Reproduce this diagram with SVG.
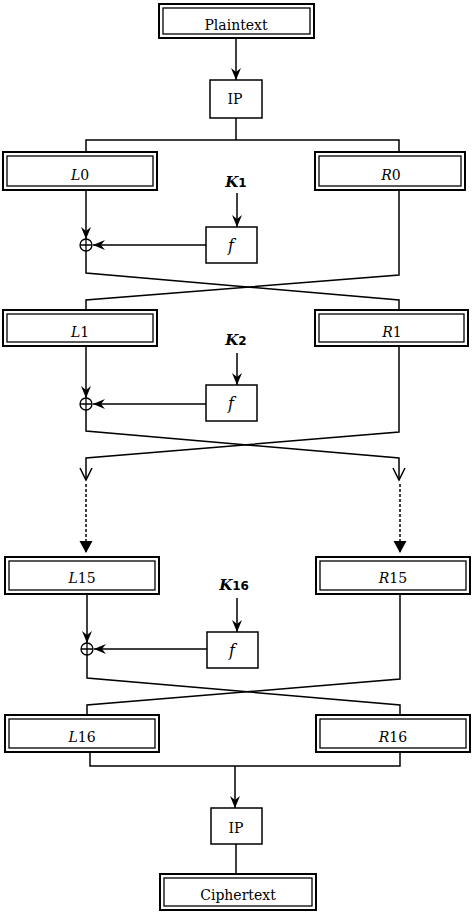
<svg xmlns="http://www.w3.org/2000/svg" width="474" height="914" viewBox="0 0 474 914">
<style>
.o{fill:#fff;stroke:#000;stroke-width:2}
.i{fill:none;stroke:#000;stroke-width:1.3}
.b{fill:#fff;stroke:#000;stroke-width:1.5}
.t{font-family:"DejaVu Serif","Liberation Serif",serif;font-size:14px;fill:#000;text-anchor:middle}
.v{font-style:italic}
.fx{font-family:"DejaVu Serif","Liberation Serif",serif;font-size:16px;font-style:italic;fill:#000;text-anchor:middle}
.k{font-family:"DejaVu Serif","Liberation Serif",serif;font-size:15px;font-weight:bold;font-style:italic;fill:#000;text-anchor:middle}
.kn{font-family:"DejaVu Sans","Liberation Sans",sans-serif;font-style:normal;font-size:12px;font-weight:bold}
#conn line,#conn polyline{fill:none;stroke:#000;stroke-width:1.5}
.dot{stroke-dasharray:3,2}
</style>
<defs>
<marker id="a" markerUnits="userSpaceOnUse" markerWidth="13" markerHeight="11" refX="12" refY="5" orient="auto" overflow="visible">
<path d="M0,0 L12,5 L0,10 L4,5 z" fill="#000"/>
</marker>
<marker id="v" markerUnits="userSpaceOnUse" markerWidth="13" markerHeight="13" refX="12" refY="6" orient="auto" overflow="visible">
<path d="M0,0 L12,6 L0,12" fill="none" stroke="#000" stroke-width="1.5"/>
</marker>
<marker id="tri" markerUnits="userSpaceOnUse" markerWidth="13" markerHeight="13" refX="12" refY="6.5" orient="auto" overflow="visible">
<path d="M0,0 L12,6.5 L0,13 z" fill="#000"/>
</marker>
</defs>
<rect width="474" height="914" fill="#fff"/>
<g id="conn">
<line x1="236" y1="38" x2="236" y2="80" marker-end="url(#a)"/>
<line x1="236" y1="118" x2="236" y2="140"/>
<polyline points="86,152 86,140 399,140 399,152"/>
<line x1="86" y1="190" x2="86" y2="239" marker-end="url(#a)"/>
<line x1="237" y1="193" x2="237" y2="227" marker-end="url(#a)"/>
<line x1="206" y1="245" x2="93" y2="245" marker-end="url(#a)"/>
<polyline points="86,251 86,273 399,300 399,310"/>
<polyline points="399,190 399,275 86,300 86,310"/>
<line x1="86" y1="346" x2="86" y2="398" marker-end="url(#a)"/>
<line x1="237" y1="353" x2="237" y2="385" marker-end="url(#a)"/>
<line x1="206" y1="404" x2="93" y2="404" marker-end="url(#a)"/>
<polyline points="86,410 86,431 399,458 399,480" marker-end="url(#v)"/>
<polyline points="399,346 399,432 86,458 86,480" marker-end="url(#v)"/>
<line class="dot" x1="86" y1="484" x2="86" y2="553" marker-end="url(#tri)"/>
<line class="dot" x1="400" y1="484" x2="400" y2="553" marker-end="url(#tri)"/>
<line x1="87" y1="594" x2="87" y2="643" marker-end="url(#a)"/>
<line x1="237" y1="598" x2="237" y2="632" marker-end="url(#a)"/>
<line x1="207" y1="649" x2="94" y2="649" marker-end="url(#a)"/>
<polyline points="87,655 87,678 400,705 400,715"/>
<polyline points="400,594 400,679 87,705 87,715"/>
<polyline points="90,752 90,766 400,766 400,752"/>
<line x1="235" y1="766" x2="235" y2="808" marker-end="url(#a)"/>
<line x1="236" y1="844" x2="236" y2="874"/>
</g>
<g id="plaintext"><rect class="o" x="159" y="4" width="155" height="34"/><rect class="i" x="163" y="8" width="147" height="26"/><text class="t" x="236" y="30">Plaintext</text></g>
<g id="ip1"><rect class="b" x="210" y="80" width="52" height="38"/><text class="t" x="235" y="104">IP</text></g>
<g id="l0"><rect class="o" x="3" y="152" width="154" height="38"/><rect class="i" x="7" y="156" width="146" height="30"/><text class="t" x="80" y="180"><tspan class="v">L</tspan>0</text></g>
<g id="r0"><rect class="o" x="315" y="152" width="150" height="38"/><rect class="i" x="319" y="156" width="142" height="30"/><text class="t" x="391" y="180"><tspan class="v">R</tspan>0</text></g>
<g id="k1"><text class="k" x="236" y="187">K<tspan class="kn">1</tspan></text></g>
<g id="f1"><rect class="b" x="206" y="227" width="51" height="36"/><text class="fx" x="231" y="251">f</text></g>
<g id="xor1"><circle cx="86" cy="245" r="6" fill="#fff" stroke="#000" stroke-width="1.3"/><path d="M80,245 H92 M86,239 V251" stroke="#000" stroke-width="1.3"/></g>
<g id="l1"><rect class="o" x="3" y="310" width="154" height="36"/><rect class="i" x="7" y="314" width="146" height="28"/><text class="t" x="80" y="337"><tspan class="v">L</tspan>1</text></g>
<g id="r1"><rect class="o" x="315" y="310" width="153" height="36"/><rect class="i" x="319" y="314" width="145" height="28"/><text class="t" x="392" y="337"><tspan class="v">R</tspan>1</text></g>
<g id="k2"><text class="k" x="236" y="345">K<tspan class="kn">2</tspan></text></g>
<g id="f2"><rect class="b" x="206" y="385" width="51" height="36"/><text class="fx" x="231" y="409">f</text></g>
<g id="xor2"><circle cx="86" cy="404" r="6" fill="#fff" stroke="#000" stroke-width="1.3"/><path d="M80,404 H92 M86,398 V410" stroke="#000" stroke-width="1.3"/></g>
<g id="l15"><rect class="o" x="5" y="557" width="154" height="37"/><rect class="i" x="9" y="561" width="146" height="29"/><text class="t" x="82" y="583"><tspan class="v">L</tspan>15</text></g>
<g id="r15"><rect class="o" x="316" y="557" width="154" height="37"/><rect class="i" x="320" y="561" width="146" height="29"/><text class="t" x="393" y="583"><tspan class="v">R</tspan>15</text></g>
<g id="k16"><text class="k" x="234" y="590">K<tspan class="kn">16</tspan></text></g>
<g id="f16"><rect class="b" x="207" y="632" width="51" height="36"/><text class="fx" x="232" y="656">f</text></g>
<g id="xor16"><circle cx="87" cy="649" r="6" fill="#fff" stroke="#000" stroke-width="1.3"/><path d="M81,649 H93 M87,643 V655" stroke="#000" stroke-width="1.3"/></g>
<g id="l16"><rect class="o" x="5" y="715" width="154" height="37"/><rect class="i" x="9" y="719" width="146" height="29"/><text class="t" x="82" y="742"><tspan class="v">L</tspan>16</text></g>
<g id="r16"><rect class="o" x="316" y="715" width="154" height="37"/><rect class="i" x="320" y="719" width="146" height="29"/><text class="t" x="393" y="742"><tspan class="v">R</tspan>16</text></g>
<g id="ip2"><rect class="b" x="211" y="808" width="51" height="36"/><text class="t" x="236" y="833">IP</text></g>
<g id="ciphertext"><rect class="o" x="160" y="874" width="156" height="36"/><rect class="i" x="164" y="878" width="148" height="28"/><text class="t" x="238" y="900">Ciphertext</text></g>
</svg>
